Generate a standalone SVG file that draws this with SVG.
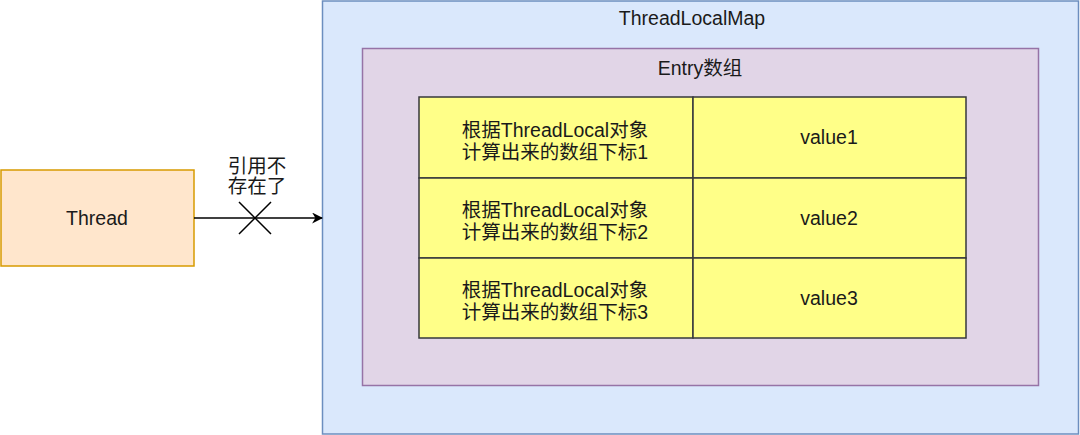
<svg xmlns="http://www.w3.org/2000/svg" width="1080" height="435" viewBox="0 0 1080 435">
<style>
text{font-family:"Liberation Sans","Noto Sans CJK SC",sans-serif;font-size:19.5px;fill:#1a1a1a;text-anchor:middle}
.cell{fill:#ffff88;stroke:#36393d;stroke-width:1.5}
</style>
<defs>
<marker id="arr" viewBox="0 0 10 10" refX="9" refY="5" markerWidth="11" markerHeight="11" markerUnits="userSpaceOnUse" orient="auto">
<path d="M0,0 L10,5 L0,10 L3,5 Z" fill="#000"/>
</marker>
</defs>
<rect width="1080" height="435" fill="#fff"/>
<g id="threadlocalmap">
<rect x="322.5" y="1" width="756" height="433" fill="#dae8fc" stroke="#6c8ebf" stroke-width="1.5"/>
<text x="692" y="25">ThreadLocalMap</text>
</g>
<g id="entry">
<rect x="362.5" y="48.5" width="676" height="337" fill="#e1d5e7" stroke="#9673a6" stroke-width="1.5"/>
<text x="700" y="75">Entry数组</text>
</g>
<g id="row1">
<rect class="cell" x="419" y="97" width="274" height="81"/>
<rect class="cell" x="693" y="97" width="273" height="81"/>
<text x="555" y="137">根据ThreadLocal对象</text>
<text x="555" y="159">计算出来的数组下标1</text>
<text x="829" y="144">value1</text>
</g>
<g id="row2">
<rect class="cell" x="419" y="178" width="274" height="80"/>
<rect class="cell" x="693" y="178" width="273" height="80"/>
<text x="555" y="217">根据ThreadLocal对象</text>
<text x="555" y="239">计算出来的数组下标2</text>
<text x="829" y="225">value2</text>
</g>
<g id="row3">
<rect class="cell" x="419" y="258" width="274" height="80"/>
<rect class="cell" x="693" y="258" width="273" height="80"/>
<text x="555" y="297">根据ThreadLocal对象</text>
<text x="555" y="319">计算出来的数组下标3</text>
<text x="829" y="305">value3</text>
</g>
<g id="thread">
<rect x="1" y="170" width="193" height="96" fill="#ffe6cc" stroke="#d79b00" stroke-width="1.5"/>
<text x="97" y="225">Thread</text>
</g>
<g id="connectors">
<line x1="194" y1="218" x2="322" y2="218" stroke="#000" stroke-width="1.5" marker-end="url(#arr)"/>
<path d="M239,202 L271,234 M271,202 L239,234" stroke="#000" stroke-width="1.5" fill="none"/>
<text x="257" y="173">引用不</text>
<text x="257" y="193">存在了</text>
</g>
</svg>
